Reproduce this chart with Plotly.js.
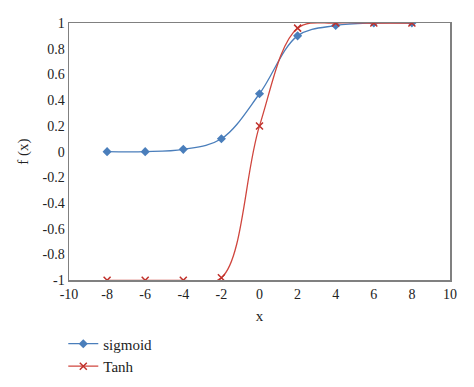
<!DOCTYPE html>
<html>
<head>
<meta charset="utf-8">
<script src="https://cdn.plot.ly/plotly-3.0.1.min.js"></script>
<style>html,body{margin:0;padding:0;background:#fff;}#chart{width:474px;height:387px;}</style>
</head>
<body>
<div id="chart"></div>
<script>
const xValues = [-8, -6, -4, -2, 0, 2, 4, 6, 8];
const sigmoidValues = [0, 0, 0.018, 0.1, 0.45, 0.9, 0.98, 1, 1];
const tanhValues = [-1, -1, -1, -0.98, 0.2, 0.96, 1, 1, 1];
const xTicks = [-10, -8, -6, -4, -2, 0, 2, 4, 6, 8, 10];
const yTicks = [-1, -0.8, -0.6, -0.4, -0.2, 0, 0.2, 0.4, 0.6, 0.8, 1];

const font = "'Liberation Serif', 'DejaVu Serif', serif";
const traces = [
  {
    x: xValues, y: sigmoidValues, name: 'sigmoid', type: 'scatter', mode: 'lines+markers',
    line: {color: '#4a7ebb', width: 1.3, shape: 'spline', smoothing: 1},
    marker: {symbol: 'diamond', size: 7, color: '#4a7ebb'}
  },
  {
    x: xValues, y: tanhValues, name: 'Tanh', type: 'scatter', mode: 'lines+markers',
    line: {color: '#d0463e', width: 1.3, shape: 'spline', smoothing: 1},
    marker: {symbol: 'x-thin', size: 7, line: {color: '#c0302a', width: 1.5}, color: '#c0302a'}
  }
];
const layout = {
  width: 474, height: 387,
  margin: {l: 69, r: 24, t: 23, b: 5},
  paper_bgcolor: '#fff', plot_bgcolor: '#fff',
  font: {family: font, size: 14, color: '#222'},
  showlegend: true,
  legend: {x: -0.015, xanchor: 'left', y: 0.152, yanchor: 'top', orientation: 'v',
           font: {family: font, size: 15, color: '#222'}, tracegroupgap: 0, itemwidth: 30},
  xaxis: {
    range: [-10, 10], tickvals: xTicks, ticktext: xTicks.map(String),
    showgrid: false, zeroline: false, showline: true, mirror: true,
    linecolor: '#808080', linewidth: 1.5, ticks: '',
    title: {text: 'x', font: {family: font, size: 15, color: '#222'}, standoff: 10},
    tickfont: {family: font, size: 14, color: '#222'}
  },
  yaxis: {
    domain: [0.2813, 1],
    range: [-1, 1], tickvals: yTicks, ticktext: yTicks.map(String),
    showgrid: false, zeroline: false, showline: true, mirror: true,
    linecolor: '#808080', linewidth: 1.5, ticks: '',
    title: {text: 'f (x)', font: {family: font, size: 15, color: '#222'}, standoff: 10},
    tickfont: {family: font, size: 14, color: '#222'}
  }
};
Plotly.newPlot('chart', traces, layout, {displayModeBar: false, staticPlot: true});
</script>
</body>
</html>
